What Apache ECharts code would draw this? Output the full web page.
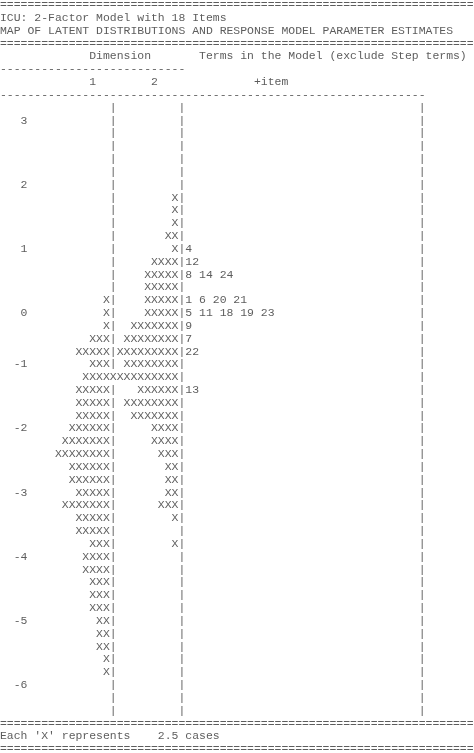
<!DOCTYPE html>
<html><head><meta charset="utf-8">
<script src="https://cdn.jsdelivr.net/npm/echarts@6/dist/echarts.min.js"></script>
<style>html,body{margin:0;padding:0;background:#fff}#c{width:474px;height:753px}</style>
</head><body><div id="c"></div>
<script>
// Wright map rows (top to bottom)
const scaleLabels = ['', '3', '', '', '', '', '2', '', '', '', '', '1', '', '', '', '', '0', '', '', '', '-1', '', '', '', '', '-2', '', '', '', '', '-3', '', '', '', '', '-4', '', '', '', '', '-5', '', '', '', '', '-6', '', ''];
const dim1 = [0,0,0,0,0,0,0,0,0,0,0,0,0,0,0,1,1,1,3,5,3,4,5,5,5,6,7,8,6,6,5,7,5,5,3,4,4,3,3,3,2,2,2,1,1,0,0,0];
const dim2 = [0,0,0,0,0,0,0,1,1,1,2,1,4,5,5,5,5,7,8,9,8,10,6,8,7,4,4,3,2,2,2,3,1,0,1,0,0,0,0,0,0,0,0,0,0,0,0,0];
const items = ['','','','','','','','','','','','4','12','8 14 24','','1 6 20 21','5 11 18 19 23','9','7','22','','','13','','','','','','','','','','','','','','','','','','','','','','','','',''];
const headerLines = [
  '='.repeat(70),
  'ICU: 2-Factor Model with 18 Items',
  'MAP OF LATENT DISTRIBUTIONS AND RESPONSE MODEL PARAMETER ESTIMATES',
  '='.repeat(70),
  '             Dimension       Terms in the Model (exclude Step terms)',
  '-'.repeat(27),
  '             1        2              +item',
  '-'.repeat(62)
];
const footerLines = ['='.repeat(70), "Each 'X' represents    2.5 cases", '='.repeat(70)];

function put(arr, col, s){ for(let i=0;i<s.length;i++) arr[col+i]=s[i]; }
const bodyLines = scaleLabels.map((lab, r) => {
  const a = new Array(62).fill(' ');
  put(a, 4 - lab.length, lab);
  put(a, 16 - dim1[r], 'X'.repeat(dim1[r]));
  a[16] = '|';
  put(a, 26 - dim2[r], 'X'.repeat(dim2[r]));
  a[26] = '|';
  put(a, 27, items[r]);
  a[61] = '|';
  return a.join('');
});
const allLines = headerLines.concat(bodyLines, footerLines);
const data = allLines.map((t, i) => ({ value: [0, i], text: t }));

const chart = echarts.init(document.getElementById('c'));
chart.setOption({
  animation: false,
  grid: { left: 0, right: 0, top: 0, bottom: 0 },
  xAxis: { type: 'value', min: 0, max: 69, show: false },
  yAxis: { type: 'value', min: -0.4, max: allLines.length - 0.7, inverse: true, show: false },
  series: [{
    type: 'scatter', symbolSize: 0, data: data,
    label: { show: true, position: [0, 0], align: 'left', verticalAlign: 'middle',
      formatter: p => p.data.text, fontFamily: 'Liberation Mono', fontSize: 11.45, color: '#333' }
  }]
});
</script></body></html>
